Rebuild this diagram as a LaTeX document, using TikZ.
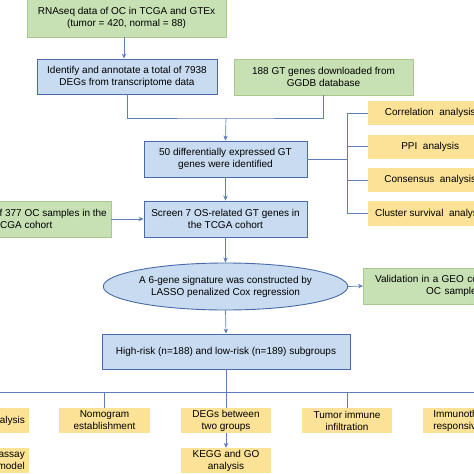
\documentclass[tikz,border=0pt]{standalone}
\usepackage{fontspec}
\setmainfont{Liberation Sans}
\usetikzlibrary{shapes.geometric,arrows.meta}

\definecolor{gfill}{RGB}{199,224,180}
\definecolor{gline}{RGB}{168,200,140}
\definecolor{bfill}{RGB}{200,219,240}
\definecolor{bline}{RGB}{72,106,166}
\definecolor{yfill}{RGB}{251,226,150}
\definecolor{lblue}{RGB}{95,125,185}

\begin{document}
\begin{tikzpicture}[x=1pt,y=-1pt,
  every node/.style={font=\fontsize{10}{12}\selectfont},
  greenbox/.style={draw=gline,fill=gfill,align=center,inner sep=2pt},
  bluebox/.style={draw=bline,fill=bfill,line width=0.9pt,align=center,inner sep=2pt},
  yellowbox/.style={fill=yfill,align=center,inner sep=1pt},
  link/.style={draw=lblue,line width=0.7pt},
  arr/.style={link,-{Stealth[length=5pt,width=4.5pt]}}]
\useasboundingbox (0,0) rectangle (474,474);
\clip (0,0) rectangle (474,474);

% data sources
\node[greenbox,minimum width=199pt,minimum height=38pt] (rna) at (126.5,18)
  {RNAseq data of OC in TCGA and GTEx\\(tumor = 420, normal = 88)};
\node[bluebox,minimum width=180pt,minimum height=35pt] (degs) at (127,76.5)
  {Identify and annotate a total of 7938\\DEGs from transcriptome data};
\node[greenbox,minimum width=179pt,minimum height=36pt] (gt) at (323.5,77)
  {188 GT genes downloaded from\\GGDB database};

% middle column
\node[bluebox,minimum width=163pt,minimum height=36pt] (diff) at (225.5,159)
  {50 differentially expressed GT\\genes were identified};
\node[bluebox,minimum width=163pt,minimum height=36pt] (screen) at (225.5,219)
  {Screen 7 OS-related GT genes in\\the TCGA cohort};
\node[greenbox,anchor=east,align=left,inner xsep=4pt,minimum height=36pt] (train) at (111,219)
  {of 377 OC samples in the\\TCGA cohort};
\node[ellipse,draw=bline,fill=bfill,line width=0.9pt,align=center,inner sep=0pt,
  minimum width=209pt,minimum height=47pt] (sig) at (225.5,286.5)
  {A 6-gene signature was constructed by\\LASSO penalized Cox regression};
\node[greenbox,anchor=west,text width=150pt,align=left,inner xsep=12pt,minimum height=36pt] (valid) at (363,286)
  {Validation in a GEO cohort\\\hspace*{51pt}OC samples};
\node[bluebox,minimum width=248pt,minimum height=35pt] (high) at (226,351.5)
  {High-risk (n=188) and low-risk (n=189) subgroups};

% analyses of the 50 genes
\node[yellowbox,anchor=west,minimum width=124pt,minimum height=24pt] (corr) at (368,113) {Correlation~~analysis};
\node[yellowbox,anchor=west,minimum width=124pt,minimum height=24pt] (ppi) at (368,146.5) {PPI~~analysis};
\node[yellowbox,anchor=west,minimum width=124pt,minimum height=24pt] (cons) at (368,180) {Consensus~~analysis};
\node[yellowbox,anchor=west,minimum width=124pt,minimum height=25pt] (clus) at (368,213.5) {Cluster survival~~analysis};

% analyses of the risk groups
\node[yellowbox,anchor=east,text width=83pt,align=right,inner xsep=4pt,minimum height=25pt] (surv) at (29,420.5) {analysis};
\node[yellowbox,anchor=east,text width=83pt,align=right,inner xsep=4pt,minimum height=25pt] (assay) at (29,460.5) {assay\\model};
\node[yellowbox,minimum width=91pt,minimum height=25pt] (nomo) at (104.5,420.5) {Nomogram\\establishment};
\node[yellowbox,minimum width=90pt,minimum height=25pt] (degs2) at (226,420.5) {DEGs between\\two groups};
\node[yellowbox,minimum width=90pt,minimum height=25pt] (kegg) at (226,460.5) {KEGG and GO\\analysis};
\node[yellowbox,minimum width=90pt,minimum height=25pt] (tumor) at (347,420.5) {Tumor immune\\infiltration};
\node[yellowbox,minimum width=90pt,minimum height=25pt] (immuno) at (468,420.5) {Immunotherapy\\responsiveness};

% connectors
\draw[arr] (rna.south -| 124,0) -- (degs.north -| 124,0);
\coordinate (join) at (226,118);
\draw[link] (degs.south) |- (join) -| (gt.south);
\draw[arr] (join) -- (diff.north);
\draw[arr] (diff.south) -- (screen.north);
\draw[arr] (train.east) -- (screen.west);
\draw[arr] (screen.south) -- (sig.north);
\draw[arr] (sig.east) -- (valid.west);
\draw[arr] (sig.south) -- (high.north);

\coordinate (rbus) at (347,159);
\draw[link] (diff.east) -- (rbus);
\draw[link] (rbus |- corr.west) -- (rbus |- clus.west);
\foreach \n in {corr,ppi,cons,clus}
  \draw[link] (rbus |- \n.west) -- (\n.west);

\coordinate (bl) at (0,392);
\coordinate (br) at (474,392);
\draw[link] (bl) -- (br);
\draw[link] (high.south) -- (degs2.north);
\foreach \n in {surv,nomo,tumor}
  \draw[link] (\n.north |- bl) -- (\n.north);
\draw[arr] (degs2.south) -- (kegg.north);
\end{tikzpicture}
\end{document}
